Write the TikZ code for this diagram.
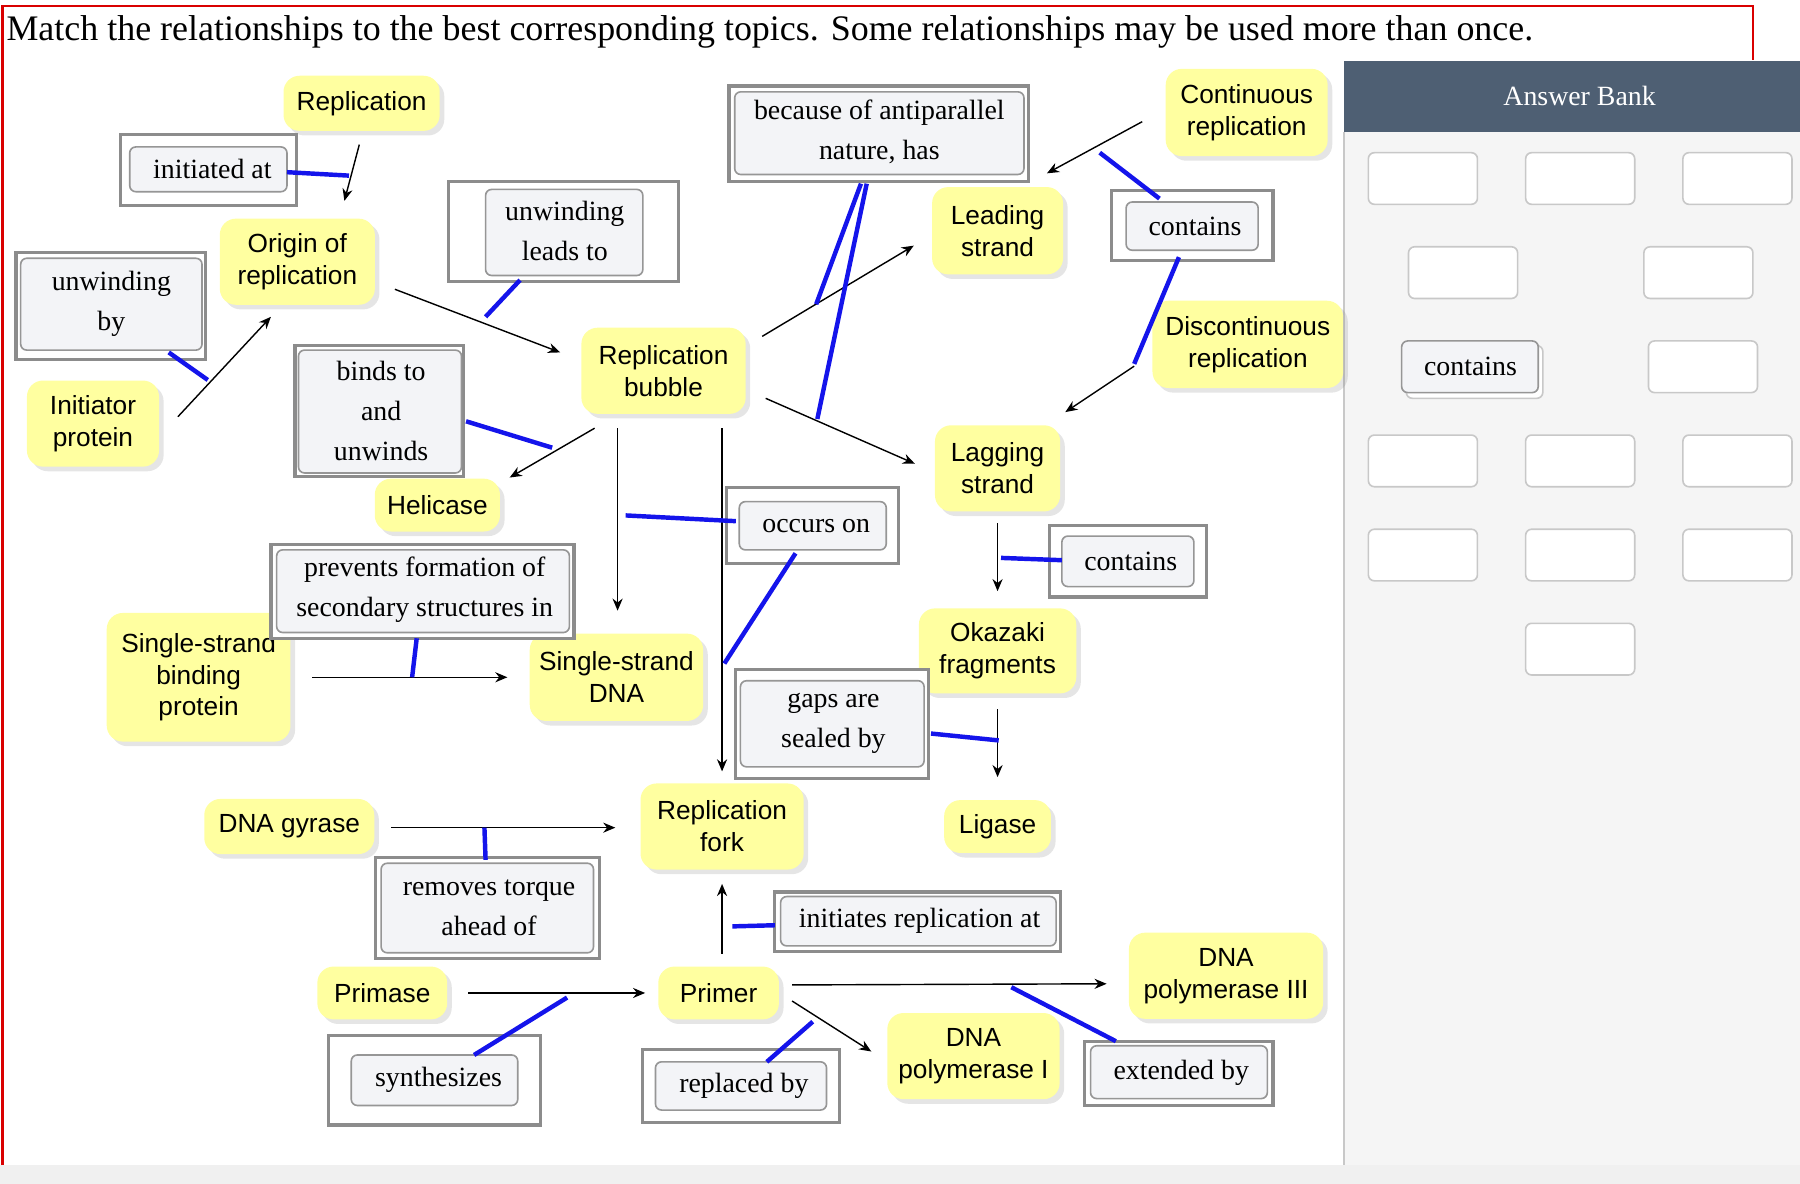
\documentclass[tikz,border=0pt]{standalone}
\usepackage{fontspec}
\setmainfont{Liberation Serif}
\newfontfamily\sansf{Liberation Sans}
\usetikzlibrary{shadows,fit,arrows.meta}
\definecolor{yel}{RGB}{255,255,160}
\definecolor{lblfill}{RGB}{243,244,247}
\definecolor{bl}{RGB}{20,20,235}
\definecolor{hdr}{RGB}{78,95,115}
\definecolor{obord}{RGB}{140,140,140}
\definecolor{ibord}{RGB}{150,150,150}
\definecolor{ebord}{RGB}{200,200,200}
\definecolor{strip}{RGB}{240,240,240}
\definecolor{panel}{RGB}{245,245,245}
\tikzset{
 yel/.style={draw=none,fill=yel,rounded corners=4pt,align=center,font=\sansf\fontsize{6.5}{7.9}\selectfont,inner sep=0pt,drop shadow={opacity=0.2,shadow xshift=0.04cm,shadow yshift=-0.04cm}},
 outer/.style={draw=obord,line width=0.8pt,fill=white,inner sep=0pt},
 inner/.style={draw=ibord,line width=0.4pt,fill=lblfill,rounded corners=1.5pt},
 ltxt/.style={align=center,font=\fontsize{6.9}{9.9}\selectfont},
 arr/.style={-{Stealth[length=3pt,width=2.5pt]},line width=0.35pt},
 blu/.style={draw=bl,line width=1.1pt},
 empty/.style={draw=ebord,fill=white,rounded corners=1.5pt,line width=0.4pt},
}
\newcommand\lblbox[7]{%
 \node[outer,fit={(#2)(#3)}] (#1o) {};
 \path[inner] (#4) rectangle (#5);
 \node[ltxt] (#1) at (#6) {#7};}
\newcommand\yn[5]{\node[yel,minimum width=#3cm,minimum height=#4cm] (#1) at (#2) {#5};}
\begin{document}
\begin{tikzpicture}[x=0.01cm,y=-0.01cm]
\useasboundingbox (0,0) rectangle (1568,1031);
\fill[white] (0,0) rectangle (1568,1031);
\fill[strip] (0,1015) rectangle (1568,1031);
\draw[red!85!black,line width=0.6pt] (2,1015) -- (2,5) -- (1527,5) -- (1527,52);
\node[anchor=west,font=\fontsize{8.9}{10}\selectfont,inner sep=0] (title) at (5,28) {Match the relationships to the best corresponding topics. Some relationships may be used more than once.};
% answer bank
\fill[panel] (1171,53) rectangle (1568,1015);
\draw[ebord,line width=0.4pt] (1171,115) -- (1171,1015);
\fill[hdr] (1171,53) rectangle (1568,115);
\node[white,font=\fontsize{6.9}{8}\selectfont] (ab) at (1376,84) {Answer Bank};
\foreach \x/\y in {1192/133,1329/133,1466/133,1227/215,1432/215,1436/297,1192/379,1329/379,1466/379,1192/461,1329/461,1466/461,1329/543}
  \path[empty] (\x,\y) rectangle ++(95,45);
\path[empty] (1225,301) rectangle (1344,347);
\path[inner] (1221,297) rectangle (1340,342);
\node[ltxt] (abc) at (1281,319) {contains};
% yellow nodes
\yn{rep}{315,90}{1.36}{0.48}{Replication}
\yn{ori}{259,228}{1.35}{0.75}{Origin of\\replication}
\yn{ini}{81,369}{1.15}{0.75}{Initiator\\protein}
\yn{bub}{578,323}{1.43}{0.75}{Replication\\bubble}
\yn{hel}{381,440}{1.09}{0.46}{Helicase}
\yn{ssb}{173,590}{1.60}{1.12}{Single-strand\\binding\\protein}
\yn{ssd}{537,590}{1.51}{0.76}{Single-strand\\DNA}
\yn{gyr}{252,720}{1.48}{0.48}{DNA gyrase}
\yn{frk}{629,720}{1.42}{0.75}{Replication\\fork}
\yn{prm}{333,865}{1.13}{0.46}{Primase}
\yn{pri}{626,865}{1.05}{0.46}{Primer}
\yn{po1}{848,920}{1.50}{0.75}{DNA\\polymerase I}
\yn{po3}{1068,850}{1.69}{0.75}{DNA\\polymerase III}
\yn{lig}{869,720}{0.93}{0.46}{Ligase}
\yn{oka}{869,567}{1.37}{0.74}{Okazaki\\fragments}
\yn{lag}{869,408}{1.09}{0.75}{Lagging\\strand}
\yn{lea}{869,201}{1.14}{0.76}{Leading\\strand}
\yn{con}{1086,98}{1.41}{0.76}{Continuous\\replication}
\yn{dis}{1087,300}{1.66}{0.76}{Discontinuous\\replication}
% label boxes
\lblbox{l1}{105,117}{258,179}{113,128}{250,167}{185,147}{initiated at}
\lblbox{l2}{391,158}{591,245}{423,165}{560,240}{492,201}{unwinding\\leads to}
\lblbox{l3}{635,75}{896,158}{640,80}{892,152}{766,115}{because of antiparallel\\nature, has}
\lblbox{l4}{968,166}{1109,227}{981,176}{1096,218}{1041,197}{contains}
\lblbox{l5}{14,220}{179,313}{18,225}{176,305}{97,265}{unwinding\\by}
\lblbox{l6}{257,301}{404,415}{260,305}{402,412}{332,358}{binds to\\and\\unwinds}
\lblbox{l7}{633,425}{783,491}{644,437}{772,479}{711,458}{occurs on}
\lblbox{l8}{914,458}{1051,520}{925,467}{1040,511}{985,489}{contains}
\lblbox{l9}{236,474}{500,556}{241,479}{496,551}{370,514}{prevents formation of\\secondary structures in}
\lblbox{l10}{641,583}{809,678}{645,593}{805,668}{726,630}{gaps are\\sealed by}
\lblbox{l11}{327,747}{522,835}{332,752}{517,830}{426,791}{removes torque\\ahead of}
\lblbox{l12}{675,777}{924,829}{680,781}{920,824}{801,802}{initiates replication at}
\lblbox{l13}{286,902}{471,980}{306,919}{451,963}{382,941}{synthesizes}
\lblbox{l14}{560,914}{731,978}{571,925}{720,967}{648,946}{replaced by}
\lblbox{l15}{945,907}{1109,963}{950,911}{1104,957}{1029,935}{extended by}
% coordinates
\coordinate (a1s) at (313,126); \coordinate (a1e) at (300,175);
\coordinate (a2s) at (155,363); \coordinate (a2e) at (236,276);
\coordinate (a3s) at (344,252); \coordinate (a3e) at (488,307);
\coordinate (a4s) at (664,293); \coordinate (a4e) at (796,214);
\coordinate (a5s) at (667,347); \coordinate (a5e) at (797,404);
\coordinate (a6s) at (995,106); \coordinate (a6e) at (912,151);
\coordinate (a7s) at (988,319); \coordinate (a7e) at (928,359);
\coordinate (a8s) at (518,373); \coordinate (a8e) at (444,416);
\coordinate (a9s) at (538,373); \coordinate (a9e) at (538,532);
\coordinate (a10s) at (629,373); \coordinate (a10e) at (629,672);
\coordinate (a11s) at (869,456); \coordinate (a11e) at (869,515);
\coordinate (a12s) at (869,618); \coordinate (a12e) at (869,677);
\coordinate (a13s) at (272,590); \coordinate (a13e) at (442,590);
\coordinate (a14s) at (341,721); \coordinate (a14e) at (536,721);
\coordinate (a15s) at (629,831); \coordinate (a15e) at (629,770);
\coordinate (a16s) at (408,865); \coordinate (a16e) at (562,865);
\coordinate (a17s) at (690,858); \coordinate (a17e) at (964,857);
\coordinate (a18s) at (690,872); \coordinate (a18e) at (759,916);
\foreach \i in {1,...,18} \draw[arr] (a\i s) -- (a\i e);
% blue links
\coordinate (b1s) at (250,150); \coordinate (b1e) at (304,153);
\coordinate (b2s) at (147,307); \coordinate (b2e) at (181,331);
\coordinate (b3s) at (453,244); \coordinate (b3e) at (423,276);
\coordinate (b4s) at (750,160); \coordinate (b4e) at (711,265);
\coordinate (b5s) at (755,160); \coordinate (b5e) at (712,365);
\coordinate (b6s) at (958,133); \coordinate (b6e) at (1010,173);
\coordinate (b7s) at (1027,224); \coordinate (b7e) at (988,317);
\coordinate (b8s) at (406,367); \coordinate (b8e) at (481,390);
\coordinate (b9s) at (641,454); \coordinate (b9e) at (545,449);
\coordinate (b10s) at (693,482); \coordinate (b10e) at (631,578);
\coordinate (b11s) at (925,488); \coordinate (b11e) at (872,486);
\coordinate (b12s) at (811,639); \coordinate (b12e) at (870,645);
\coordinate (b13s) at (363,556); \coordinate (b13e) at (359,590);
\coordinate (b14s) at (423,749); \coordinate (b14e) at (422,721);
\coordinate (b15s) at (675,806); \coordinate (b15e) at (638,807);
\coordinate (b16s) at (494,869); \coordinate (b16e) at (413,919);
\coordinate (b17s) at (972,907); \coordinate (b17e) at (881,860);
\coordinate (b18s) at (668,925); \coordinate (b18e) at (708,890);
\foreach \i in {1,...,18} \draw[blu] (b\i s) -- (b\i e);
\end{tikzpicture}
\end{document}
